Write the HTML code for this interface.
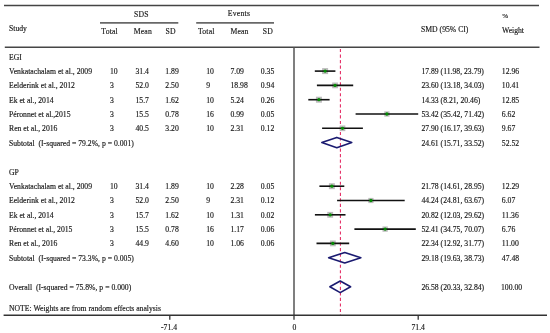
<!DOCTYPE html>
<html><head><meta charset="utf-8"><style>
html,body{margin:0;padding:0;background:#fff;}
svg{display:block;}
text{font-family:"Liberation Serif", "Times New Roman", serif;font-size:7.7px;fill:#181818;stroke:#181818;stroke-width:0.15px;}
</style></head><body>
<svg width="550" height="333" viewBox="0 0 550 333">
<rect width="550" height="333" fill="#fff"/>
<line x1="4.0" y1="5.5" x2="539.0" y2="5.5" stroke="#444" stroke-width="1.5"/>
<line x1="4.8" y1="47.2" x2="539.5" y2="47.2" stroke="#464646" stroke-width="1.5"/>
<line x1="100.0" y1="22.9" x2="178.3" y2="22.9" stroke="#686868" stroke-width="1.7"/>
<line x1="196.2" y1="22.9" x2="274.0" y2="22.9" stroke="#686868" stroke-width="1.7"/>
<text x="9.0" y="30.5">Study</text>
<text x="134.0" y="17.2" letter-spacing="0.25">SDS</text>
<text x="227.8" y="15.8" letter-spacing="0.25">Events</text>
<text x="101.3" y="34.3" letter-spacing="0.18">Total</text>
<text x="133.7" y="34.3" letter-spacing="0.18">Mean</text>
<text x="165.5" y="34.3" letter-spacing="0.18">SD</text>
<text x="198.0" y="34.3" letter-spacing="0.18">Total</text>
<text x="230.4" y="34.3" letter-spacing="0.18">Mean</text>
<text x="262.7" y="34.3" letter-spacing="0.18">SD</text>
<text x="421.0" y="31.6">SMD (95% CI)</text>
<text x="502.2" y="17.7" style="font-size:7px">%</text>
<text x="502.0" y="32.6">Weight</text>
<line x1="294.0" y1="47.2" x2="294.0" y2="315.2" stroke="#555" stroke-width="1.5"/>
<line x1="340.4" y1="49.0" x2="340.4" y2="315.0" stroke="#e3245f" stroke-width="1.05" stroke-dasharray="3.1 2.43"/>
<text x="9.0" y="59.7">EGI</text>
<text x="9.0" y="74.0">Venkatachalam et al., 2009</text>
<text x="110.0" y="74.0">10</text>
<text x="135.5" y="74.0">31.4</text>
<text x="165.3" y="74.0">1.89</text>
<text x="206.2" y="74.0">10</text>
<text x="230.5" y="74.0">7.09</text>
<text x="260.8" y="74.0">0.35</text>
<text x="421.4" y="74.0">17.89 (11.98, 23.79)</text>
<text x="501.8" y="74.0">12.96</text>
<rect x="322.11" y="68.10" width="6.00" height="6.00" fill="#bcbcbc"/>
<line x1="314.8" y1="71.1" x2="335.4" y2="71.1" stroke="#111" stroke-width="1.6"/>
<circle cx="325.11" cy="71.10" r="1.65" fill="#058c05"/>
<text x="9.0" y="88.3">Eelderink et al., 2012</text>
<text x="110.0" y="88.3">3</text>
<text x="135.5" y="88.3">52.0</text>
<text x="165.3" y="88.3">2.50</text>
<text x="206.2" y="88.3">9</text>
<text x="230.5" y="88.3">18.98</text>
<text x="260.8" y="88.3">0.94</text>
<text x="421.4" y="88.3">23.60 (13.18, 34.03)</text>
<text x="501.8" y="88.3">10.41</text>
<rect x="332.17" y="82.53" width="5.74" height="5.74" fill="#bcbcbc"/>
<line x1="316.9" y1="85.4" x2="353.2" y2="85.4" stroke="#111" stroke-width="1.6"/>
<circle cx="335.04" cy="85.40" r="1.65" fill="#058c05"/>
<text x="9.0" y="102.6">Ek et al., 2014</text>
<text x="110.0" y="102.6">3</text>
<text x="135.5" y="102.6">15.7</text>
<text x="165.3" y="102.6">1.62</text>
<text x="206.2" y="102.6">10</text>
<text x="230.5" y="102.6">5.24</text>
<text x="260.8" y="102.6">0.26</text>
<text x="421.4" y="102.6">14.33 (8.21, 20.46)</text>
<text x="501.8" y="102.6">12.85</text>
<rect x="315.92" y="96.71" width="5.99" height="5.99" fill="#bcbcbc"/>
<line x1="308.3" y1="99.7" x2="329.6" y2="99.7" stroke="#111" stroke-width="1.6"/>
<circle cx="318.92" cy="99.70" r="1.65" fill="#058c05"/>
<text x="9.0" y="116.9">Péronnet et al.,2015</text>
<text x="110.0" y="116.9">3</text>
<text x="135.5" y="116.9">15.5</text>
<text x="165.3" y="116.9">0.78</text>
<text x="206.2" y="116.9">16</text>
<text x="230.5" y="116.9">0.99</text>
<text x="260.8" y="116.9">0.05</text>
<text x="421.4" y="116.9">53.42 (35.42, 71.42)</text>
<text x="501.8" y="116.9">6.62</text>
<rect x="384.24" y="111.36" width="5.29" height="5.29" fill="#bcbcbc"/>
<line x1="355.6" y1="114.0" x2="418.2" y2="114.0" stroke="#111" stroke-width="1.6"/>
<circle cx="386.89" cy="114.00" r="1.65" fill="#058c05"/>
<text x="9.0" y="131.2">Ren et al., 2016</text>
<text x="110.0" y="131.2">3</text>
<text x="135.5" y="131.2">40.5</text>
<text x="165.3" y="131.2">3.20</text>
<text x="206.2" y="131.2">10</text>
<text x="230.5" y="131.2">2.31</text>
<text x="260.8" y="131.2">0.12</text>
<text x="421.4" y="131.2">27.90 (16.17, 39.63)</text>
<text x="501.8" y="131.2">9.67</text>
<rect x="339.68" y="125.47" width="5.66" height="5.66" fill="#bcbcbc"/>
<line x1="322.1" y1="128.3" x2="362.9" y2="128.3" stroke="#111" stroke-width="1.6"/>
<circle cx="342.51" cy="128.30" r="1.65" fill="#058c05"/>
<text x="9.0" y="145.5" xml:space="preserve" style="white-space:pre">Subtotal  (I-squared = 79.2%, p = 0.001)</text>
<text x="421.4" y="145.5">24.61 (15.71, 33.52)</text>
<text x="501.8" y="145.5">52.52</text>
<polygon points="321.82,142.60 336.79,137.40 351.78,142.60 336.79,147.80" fill="none" stroke="#1a1a70" stroke-width="1.6" stroke-linejoin="round"/>
<text x="9.0" y="174.8">GP</text>
<text x="9.0" y="189.1">Venkatachalam et al., 2009</text>
<text x="110.0" y="189.1">10</text>
<text x="135.5" y="189.1">31.4</text>
<text x="165.3" y="189.1">1.89</text>
<text x="206.2" y="189.1">10</text>
<text x="230.5" y="189.1">2.28</text>
<text x="260.8" y="189.1">0.05</text>
<text x="421.4" y="189.1">21.78 (14.61, 28.95)</text>
<text x="501.8" y="189.1">12.29</text>
<rect x="328.90" y="183.23" width="5.93" height="5.93" fill="#bcbcbc"/>
<line x1="319.4" y1="186.2" x2="344.3" y2="186.2" stroke="#111" stroke-width="1.6"/>
<circle cx="331.87" cy="186.20" r="1.65" fill="#058c05"/>
<text x="9.0" y="203.4">Eelderink et al., 2012</text>
<text x="110.0" y="203.4">3</text>
<text x="135.5" y="203.4">52.0</text>
<text x="165.3" y="203.4">2.50</text>
<text x="206.2" y="203.4">9</text>
<text x="230.5" y="203.4">2.31</text>
<text x="260.8" y="203.4">0.12</text>
<text x="421.4" y="203.4">44.24 (24.81, 63.67)</text>
<text x="501.8" y="203.4">6.07</text>
<rect x="368.32" y="197.89" width="5.21" height="5.21" fill="#bcbcbc"/>
<line x1="337.1" y1="200.5" x2="404.7" y2="200.5" stroke="#111" stroke-width="1.6"/>
<circle cx="370.92" cy="200.50" r="1.65" fill="#058c05"/>
<text x="9.0" y="217.7">Ek et al., 2014</text>
<text x="110.0" y="217.7">3</text>
<text x="135.5" y="217.7">15.7</text>
<text x="165.3" y="217.7">1.62</text>
<text x="206.2" y="217.7">10</text>
<text x="230.5" y="217.7">1.31</text>
<text x="260.8" y="217.7">0.02</text>
<text x="421.4" y="217.7">20.82 (12.03, 29.62)</text>
<text x="501.8" y="217.7">11.36</text>
<rect x="327.28" y="211.88" width="5.84" height="5.84" fill="#bcbcbc"/>
<line x1="314.9" y1="214.8" x2="345.5" y2="214.8" stroke="#111" stroke-width="1.6"/>
<circle cx="330.20" cy="214.80" r="1.65" fill="#058c05"/>
<text x="9.0" y="232.0">Péronnet et al., 2015</text>
<text x="110.0" y="232.0">3</text>
<text x="135.5" y="232.0">15.5</text>
<text x="165.3" y="232.0">0.78</text>
<text x="206.2" y="232.0">16</text>
<text x="230.5" y="232.0">1.17</text>
<text x="260.8" y="232.0">0.06</text>
<text x="421.4" y="232.0">52.41 (34.75, 70.07)</text>
<text x="501.8" y="232.0">6.76</text>
<rect x="382.48" y="226.45" width="5.31" height="5.31" fill="#bcbcbc"/>
<line x1="354.4" y1="229.1" x2="415.8" y2="229.1" stroke="#111" stroke-width="1.6"/>
<circle cx="385.13" cy="229.10" r="1.65" fill="#058c05"/>
<text x="9.0" y="246.3">Ren et al., 2016</text>
<text x="110.0" y="246.3">3</text>
<text x="135.5" y="246.3">44.9</text>
<text x="165.3" y="246.3">4.60</text>
<text x="206.2" y="246.3">10</text>
<text x="230.5" y="246.3">1.06</text>
<text x="260.8" y="246.3">0.06</text>
<text x="421.4" y="246.3">22.34 (12.92, 31.77)</text>
<text x="501.8" y="246.3">11.00</text>
<rect x="329.94" y="240.50" width="5.80" height="5.80" fill="#bcbcbc"/>
<line x1="316.5" y1="243.4" x2="349.2" y2="243.4" stroke="#111" stroke-width="1.6"/>
<circle cx="332.84" cy="243.40" r="1.65" fill="#058c05"/>
<text x="9.0" y="260.6" xml:space="preserve" style="white-space:pre">Subtotal  (I-squared = 73.3%, p = 0.005)</text>
<text x="421.4" y="260.6">29.18 (19.63, 38.73)</text>
<text x="501.8" y="260.6">47.48</text>
<polygon points="328.63,257.70 344.74,252.50 360.84,257.70 344.74,262.90" fill="none" stroke="#1a1a70" stroke-width="1.6" stroke-linejoin="round"/>
<text x="9.0" y="289.5" xml:space="preserve" style="white-space:pre">Overall  (I-squared = 75.8%, p = 0.000)</text>
<text x="421.4" y="289.5">26.58 (20.33, 32.84)</text>
<text x="501.0" y="289.5">100.00</text>
<polygon points="329.85,286.80 340.22,281.00 350.60,286.80 340.22,292.60" fill="none" stroke="#1a1a70" stroke-width="1.6" stroke-linejoin="round"/>
<text x="9.0" y="311.0">NOTE: Weights are from random effects analysis</text>
<line x1="3.6" y1="315.2" x2="547.0" y2="315.2" stroke="#333" stroke-width="1.6"/>
<line x1="169.8" y1="315.2" x2="169.8" y2="319.8" stroke="#333" stroke-width="1.3"/>
<line x1="294.0" y1="315.2" x2="294.0" y2="319.8" stroke="#333" stroke-width="1.3"/>
<line x1="418.2" y1="315.2" x2="418.2" y2="319.8" stroke="#333" stroke-width="1.3"/>
<text x="169.0" y="330.0" text-anchor="middle">-71.4</text>
<text x="294.3" y="329.6" text-anchor="middle">0</text>
<text x="418.2" y="330.0" text-anchor="middle">71.4</text>
</svg>
</body></html>
